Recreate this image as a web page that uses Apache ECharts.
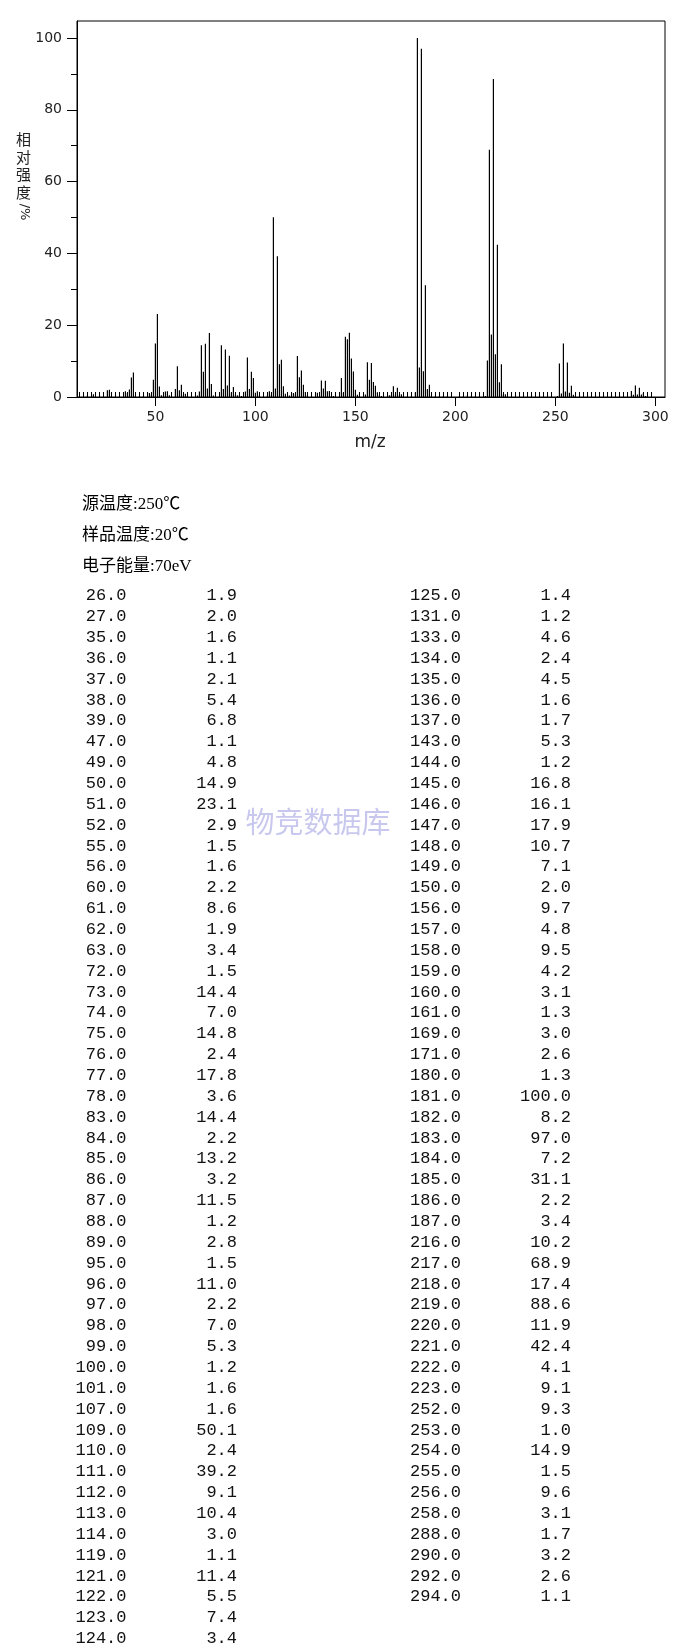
<!DOCTYPE html>
<html>
<head>
<meta charset="utf-8">
<script src="https://cdn.jsdelivr.net/npm/echarts@6/dist/echarts.min.js"></script>
<style>
html,body{margin:0;padding:0;background:#fff;}
#chart{width:687px;height:1648px;}
</style>
</head>
<body>
<div id="chart"></div>
<script>
// ---- data (from the peak table) ----
const mzValues = [26,27,35,36,37,38,39,47,49,50,51,52,55,56,60,61,62,63,72,73,74,75,76,77,78,83,84,85,86,87,88,89,95,96,97,98,99,100,101,107,109,110,111,112,113,114,119,121,122,123,124,
  125,131,133,134,135,136,137,143,144,145,146,147,148,149,150,156,157,158,159,160,161,169,171,180,181,182,183,184,185,186,187,216,217,218,219,220,221,222,223,252,253,254,255,256,258,288,290,292,294];
const intensities = [1.9,2.0,1.6,1.1,2.1,5.4,6.8,1.1,4.8,14.9,23.1,2.9,1.5,1.6,2.2,8.6,1.9,3.4,1.5,14.4,7.0,14.8,2.4,17.8,3.6,14.4,2.2,13.2,3.2,11.5,1.2,2.8,1.5,11.0,2.2,7.0,5.3,1.2,1.6,1.6,50.1,2.4,39.2,9.1,10.4,3.0,1.1,11.4,5.5,7.4,3.4,
  1.4,1.2,4.6,2.4,4.5,1.6,1.7,5.3,1.2,16.8,16.1,17.9,10.7,7.1,2.0,9.7,4.8,9.5,4.2,3.1,1.3,3.0,2.6,1.3,100.0,8.2,97.0,7.2,31.1,2.2,3.4,10.2,68.9,17.4,88.6,11.9,42.4,4.1,9.1,9.3,1.0,14.9,1.5,9.6,3.1,1.7,3.2,2.6,1.1];
// small peaks visible in the plot but below the table threshold (estimated)
const minorMz = [16,19,28,40,44,48,53,54,57,64,65,66,71,79,82,90,91,92,93,94,102,106,108,115,117,118,120,126,132,138,139,151,152,155,162,163,167,168,170,172,173,174,176,178,188,190,192,194,196,204,206,208,210,215,224,225,226,251,257,259,260,289,291,293,295,296];
const minorInt = [0.4,0.8,0.3,0.3,0.3,0.8,0.5,0.4,0.5,0.5,0.9,0.4,0.4,0.4,0.3,0.6,0.5,0.5,0.3,0.3,0.4,0.4,0.7,0.9,0.4,0.4,0.9,0.5,0.3,0.3,0.3,0.6,0.3,0.7,0.5,0.3,0.5,0.5,0.6,0.5,0.8,0.3,0.3,0.3,0.3,0.3,0.3,0.3,0.3,0.3,0.5,0.3,0.3,0.3,0.8,0.8,0.3,0.3,1.2,0.6,0.3,0.6,0.7,0.7,0.3,0.3];
const leftRows = 51;
const xMajorTicks = [50,100,150,200,250,300];
const yMajorTicks = [0,20,40,60,80,100];
const yMinorTicks = [10,30,50,70,90];
const headerLines = ['源温度:250℃','样品温度:20℃','电子能量:70eV'];
const yAxisTitle = '相对强度';
const yAxisUnit = '/%';
const xAxisTitle = 'm/z';
const watermark = '物竞数据库';

// ---- layout ----
const X_MIN = 10.8, X_MAX = 304.8, Y_MAX = 104.74;
const xMinorTicks = [];
for (let v = 12; v <= 300; v += 2) if (v % 50 !== 0) xMinorTicks.push(v);

const chart = echarts.init(document.getElementById('chart'), null, {renderer:'canvas'});
const lblFont = '"DejaVu Sans", sans-serif';
const mono = '"Liberation Mono", monospace';
const graphics = [];

headerLines.forEach((t, i) => {
  graphics.push({type:'text', x:82, y:505 + i*31, style:{text:t, fill:'#000', font:'17px "Liberation Serif", "Noto Sans CJK SC", serif', verticalAlign:'middle', align:'left'}});
});
const rowY0 = 595.7, rowStep = 20.86;
mzValues.forEach((m, i) => {
  const right = i >= leftRows;
  const r = right ? i - leftRows : i;
  const y = rowY0 + r*rowStep;
  graphics.push({type:'text', x: right ? 461 : 126.5, y, style:{text:m.toFixed(1), fill:'#111', font:'17px ' + mono, align:'right', verticalAlign:'middle'}});
  graphics.push({type:'text', x: right ? 571 : 237, y, style:{text:intensities[i].toFixed(1), fill:'#111', font:'17px ' + mono, align:'right', verticalAlign:'middle'}});
});
graphics.push({type:'text', left:16, top:131, style:{text:yAxisTitle.split('').join('\n'), fill:'#222', font:'15px "Noto Sans CJK SC", sans-serif', lineHeight:17.5, align:'center', verticalAlign:'middle'}});
graphics.push({type:'text', x:24, y:212, rotation:-Math.PI/2, style:{text:yAxisUnit, fill:'#222', font:'13px "DejaVu Sans", sans-serif', align:'center', verticalAlign:'middle'}});
graphics.push({type:'text', x:370, y:443, style:{text:xAxisTitle, fill:'#222', font:'17px "DejaVu Sans", sans-serif', align:'center', verticalAlign:'middle'}});
graphics.push({type:'text', x:318, y:822, z:100, style:{text:watermark, fill:'rgba(155,155,225,0.55)', font:'29px "Noto Sans CJK SC", sans-serif', align:'center', verticalAlign:'middle'}});

const main = mzValues.map((m, i) => [m, intensities[i]]);
const minor = minorMz.map((m, i) => [m, minorInt[i]]);

const axisCommon = {type:'value', min:X_MIN, max:X_MAX, splitLine:{show:false}};
chart.setOption({
  animation:false,
  backgroundColor:'#fff',
  grid:{left:77, top:21, width:588, height:376, show:true, borderColor:'#000', borderWidth:1, backgroundColor:'transparent'},
  xAxis:[
    Object.assign({}, axisCommon, {
      axisLine:{show:true, onZero:false, lineStyle:{color:'#000', width:1}},
      axisTick:{show:true, customValues:xMajorTicks, length:9, lineStyle:{color:'#000'}},
      axisLabel:{customValues:xMajorTicks, color:'#222', fontFamily:lblFont, fontSize:14, margin:13}
    }),
    Object.assign({}, axisCommon, {
      axisLine:{show:false},
      axisTick:{show:true, customValues:xMinorTicks, length:5, lineStyle:{color:'#000'}},
      axisLabel:{show:false}
    })
  ],
  yAxis:[
    {type:'value', min:0, max:Y_MAX, splitLine:{show:false},
      axisLine:{show:true, onZero:false, lineStyle:{color:'#000'}},
      axisTick:{show:true, customValues:yMajorTicks, length:10, lineStyle:{color:'#000'}},
      axisLabel:{customValues:yMajorTicks, color:'#222', fontFamily:lblFont, fontSize:14, margin:15}},
    {type:'value', min:0, max:Y_MAX, position:'left', splitLine:{show:false},
      axisLine:{show:false},
      axisTick:{show:true, customValues:yMinorTicks, length:6, lineStyle:{color:'#000'}},
      axisLabel:{show:false}}
  ],
  series:[
    {type:'bar', data:main, barWidth:1.2, barGap:'-100%', itemStyle:{color:'#000'}, xAxisIndex:0, yAxisIndex:0, silent:true},
    {type:'bar', data:minor, barWidth:1.2, barGap:'-100%', itemStyle:{color:'#000'}, xAxisIndex:0, yAxisIndex:0, silent:true}
  ],
  graphic:graphics
});
</script>
</body>
</html>
